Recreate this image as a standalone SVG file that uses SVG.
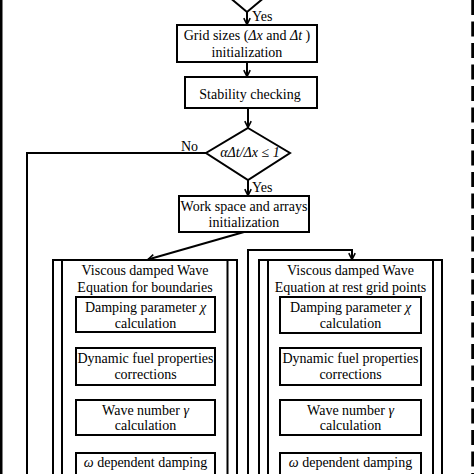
<svg xmlns="http://www.w3.org/2000/svg" width="474" height="474" viewBox="0 0 474 474">
<defs>
<style>
.box{fill:#fff;stroke:#000;stroke-width:2}
.ln{fill:none;stroke:#000;stroke-width:2}
.t{font-family:"Liberation Serif","Times New Roman",serif;font-size:14px;fill:#000;text-anchor:middle}
.l{font-family:"Liberation Serif","Times New Roman",serif;font-size:14px;fill:#000}
.i{font-style:italic}
</style>
<marker id="ah" viewBox="0 0 10 10" refX="9" refY="5" markerWidth="8" markerHeight="8" markerUnits="userSpaceOnUse" orient="auto">
<path d="M1,1 L9,5 L1,9" fill="none" stroke="#000" stroke-width="2"/>
</marker>
</defs>
<rect x="0" y="0" width="474" height="474" fill="#fff"/>
<!-- page edges -->
<rect x="0" y="0" width="2.5" height="474" fill="#000"/>
<line x1="473" y1="0" x2="473" y2="474" stroke="#000" stroke-width="3.5" stroke-dasharray="15 6.5"/>

<g id="connectors">
<line class="ln" x1="247" y1="12" x2="247" y2="24.5" marker-end="url(#ah)"/>
<line class="ln" x1="247" y1="62" x2="247" y2="76.5" marker-end="url(#ah)"/>
<line class="ln" x1="248" y1="108" x2="248" y2="127.5" marker-end="url(#ah)"/>
<line class="ln" x1="248" y1="180" x2="248" y2="195.5" marker-end="url(#ah)"/>
<polyline class="ln" points="206,153 27,153 27,476"/>
<line class="ln" x1="244" y1="232" x2="148" y2="259.5" marker-end="url(#ah)"/>
<polyline class="ln" points="248,476 248,250 352,250 352,259.5" marker-end="url(#ah)"/>
<line class="ln" x1="145.5" y1="332" x2="145.5" y2="347.5" marker-end="url(#ah)"/>
<line class="ln" x1="145.5" y1="385" x2="145.5" y2="399.5" marker-end="url(#ah)"/>
<line class="ln" x1="145.5" y1="435" x2="145.5" y2="452.5" marker-end="url(#ah)"/>
<line class="ln" x1="350.5" y1="333" x2="350.5" y2="347.5" marker-end="url(#ah)"/>
<line class="ln" x1="350.5" y1="385" x2="350.5" y2="399.5" marker-end="url(#ah)"/>
<line class="ln" x1="350.5" y1="435" x2="350.5" y2="452.5" marker-end="url(#ah)"/>
<text class="l" x="252" y="21">Yes</text>
<text class="l" x="181" y="151">No</text>
<text class="l" x="252" y="192">Yes</text>
</g>

<g id="decision-top">
<polygon class="box" points="247,-40 278,-14 247,12 216,-14"/>
</g>

<g id="grid-sizes">
<rect class="box" x="177" y="25" width="140" height="37"/>
<text class="t" x="247" y="40">Grid sizes (<tspan class="i">Δx</tspan> and <tspan class="i">Δt</tspan> )</text>
<text class="t" x="247" y="57">initialization</text>
</g>

<g id="stability">
<rect class="box" x="185" y="77" width="132" height="31"/>
<text class="t" x="250" y="99">Stability checking</text>
</g>

<g id="cfl">
<polygon class="box" points="248,128 290,153 248,180 206,153"/>
<text class="t i" x="250" y="157" font-size="12.5">αΔt/Δx ≤ 1</text>
</g>

<g id="workspace">
<rect class="box" x="179" y="196" width="130" height="36"/>
<text class="t" x="244" y="211">Work space and arrays</text>
<text class="t" x="244" y="227">initialization</text>
</g>

<g id="group-boundaries">
<rect class="box" x="53" y="260" width="184" height="240"/>
<line class="ln" x1="62" y1="260" x2="62" y2="500"/>
<line class="ln" x1="227.5" y1="260" x2="227.5" y2="500"/>
<text class="t" x="145" y="275">Viscous damped Wave</text>
<text class="t" x="145" y="292">Equation for boundaries</text>
</g>

<g id="b-damping">
<rect class="box" x="76" y="297" width="139" height="35"/>
<text class="t" x="145.5" y="311.5">Damping parameter <tspan class="i">χ</tspan></text>
<text class="t" x="145.5" y="327.5">calculation</text>
</g>
<g id="b-fuel">
<rect class="box" x="76" y="348" width="139" height="37"/>
<text class="t" x="145.5" y="362.5">Dynamic fuel properties</text>
<text class="t" x="145.5" y="379">corrections</text>
</g>
<g id="b-wave">
<rect class="box" x="76" y="400" width="139" height="35"/>
<text class="t" x="145.5" y="414.5">Wave number <tspan class="i">γ</tspan></text>
<text class="t" x="145.5" y="430">calculation</text>
</g>
<g id="b-omega">
<rect class="box" x="76" y="453" width="139" height="40"/>
<text class="t" x="145.5" y="467"><tspan class="i">ω</tspan> dependent damping</text>
</g>

<g id="group-rest">
<rect class="box" x="259" y="260" width="183" height="240"/>
<line class="ln" x1="268" y1="260" x2="268" y2="500"/>
<line class="ln" x1="433" y1="260" x2="433" y2="500"/>
<text class="t" x="350.5" y="275">Viscous damped Wave</text>
<text class="t" x="350.5" y="292">Equation at rest grid points</text>
</g>

<g id="r-damping">
<rect class="box" x="280" y="297" width="141" height="36"/>
<text class="t" x="350.5" y="311.5">Damping parameter <tspan class="i">χ</tspan></text>
<text class="t" x="350.5" y="327.5">calculation</text>
</g>
<g id="r-fuel">
<rect class="box" x="280" y="348" width="141" height="37"/>
<text class="t" x="350.5" y="362.5">Dynamic fuel properties</text>
<text class="t" x="350.5" y="379">corrections</text>
</g>
<g id="r-wave">
<rect class="box" x="280" y="400" width="141" height="35"/>
<text class="t" x="350.5" y="414.5">Wave number <tspan class="i">γ</tspan></text>
<text class="t" x="350.5" y="430">calculation</text>
</g>
<g id="r-omega">
<rect class="box" x="280" y="453" width="141" height="40"/>
<text class="t" x="350.5" y="467"><tspan class="i">ω</tspan> dependent damping</text>
</g>
</svg>
